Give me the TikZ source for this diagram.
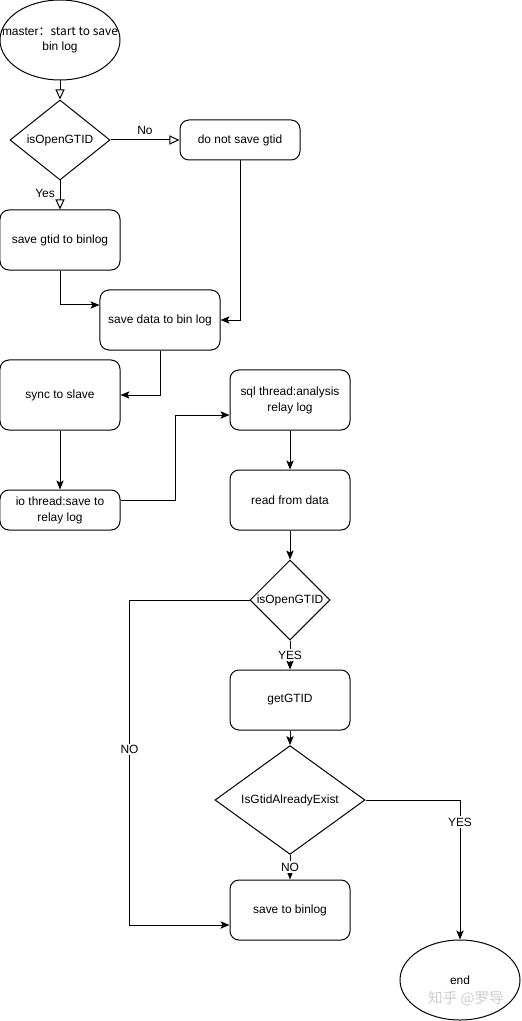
\documentclass[tikz,border=0pt]{standalone}
\usepackage{fontspec}
\setmainfont{Liberation Sans}
\newfontfamily\cjk{Noto Sans CJK SC}
\usetikzlibrary{positioning,shapes.geometric,arrows.meta}
\tikzset{
    txt/.style={align=center, inner sep=0pt, font=\fontsize{10.2}{13.5}\selectfont},
    flowbox/.style={rectangle, draw=black, line width=0.03cm, rounded corners=0.27cm, minimum width=3.6cm, minimum height=1.8cm, txt},
    arrow/.style={draw=black, line width=0.03cm, -{Stealth[length=0.27cm, width=0.22cm, inset=0.06cm]}},
    openarrow/.style={draw=black, line width=0.03cm, -{Triangle[open, length=0.3cm, width=0.27cm]}}
}

\begin{document}
\begin{tikzpicture}[
        x=0.03cm, y=-0.03cm,
        % Style for start / end
        terminal/.style={
            ellipse,
            draw=black,
            line width=0.03cm,
            minimum width=3.6cm,
            minimum height=2.4cm,
            inner sep=0pt
        },
        % Style for decisions
        decision/.style={
            diamond,
            draw=black,
            line width=0.03cm,
            minimum height=2.4cm,
            txt
        },
        % Style for labels on connectors
        edgelabel/.style={
            txt,
            fill=white,
            inner sep=1.5pt
        }
    ]
        \useasboundingbox (0,0) rectangle (521,1021);

        % --- MASTER SIDE ---
        \node[terminal, label={[txt]center:master\cjk{：}start to save\\bin log}] (start) at (60,40) {};
        \node[decision, minimum width=3cm] (gtid1) at (60,140) {isOpenGTID};
        \node[flowbox, minimum height=1.2cm] (nosave) at (240,140) {do not save gtid};
        \node[flowbox] (savegtid) at (60,240) {save gtid to binlog};
        \node[flowbox] (savedata) at (160,320) {save data to bin log};
        \node[flowbox, minimum height=2.1cm] (sync) at (60,395) {sync to slave};
        \node[flowbox, minimum height=1.2cm] (iothread) at (60,510) {io thread:save to\\relay log};

        % --- SLAVE SIDE ---
        \node[flowbox] (sqlthread) at (290,400) {sql thread:analysis\\relay log};
        \node[flowbox] (readdata) at (290,500) {read from data};
        \node[decision, minimum width=2.4cm] (gtid2) at (290,600) {isOpenGTID};
        \node[flowbox] (getgtid) at (290,700) {getGTID};
        \node[decision, minimum width=4.5cm] (exist) at (290,800) {IsGtidAlreadyExist};
        \node[flowbox] (savebinlog) at (290,910) {save to binlog};
        \node[terminal, label={[txt]center:end}] (endnode) at (460,980) {};

        % --- CONNECTORS ---
        \draw[openarrow] (start.south) -- (gtid1.north);
        \draw[openarrow] (gtid1.east) -- node[txt, above=4pt] {No} (nosave.west);
        \draw[openarrow] (gtid1.south) -- node[txt, left=4pt, pos=0.45] {Yes} (savegtid.north);
        \draw[arrow] (savegtid.south) |- ([yshift=0.45cm]savedata.west);
        \draw[arrow] (nosave.south) |- (savedata.east);
        \draw[arrow] (savedata.south) |- (sync.east);
        \draw[arrow] (sync.south) -- (iothread.north);
        \draw[arrow] ([yshift=0.3cm]iothread.east) -- ++(55,0) |- ([yshift=-0.45cm]sqlthread.west);
        \draw[arrow] (sqlthread.south) -- (readdata.north);
        \draw[arrow] (readdata.south) -- (gtid2.north);
        \draw[arrow] (gtid2.west) -- ++(-120,0) |- node[edgelabel, pos=0.23] {NO} ([yshift=-0.45cm]savebinlog.west);
        \draw[arrow] (gtid2.south) -- node[edgelabel] {YES} (getgtid.north);
        \draw[arrow] (getgtid.south) -- (exist.north);
        \draw[arrow] (exist.east) -| node[edgelabel, pos=0.58] {YES} (endnode.north);
        \draw[arrow] (exist.south) -- node[edgelabel] {NO} (savebinlog.north);

        % --- WATERMARK ---
        \node[text=gray!40, inner sep=0pt, font=\cjk\fontsize{12.5}{14}\selectfont] (mark) at (466,999) {知乎 @罗导};

    \end{tikzpicture}
\end{document}
